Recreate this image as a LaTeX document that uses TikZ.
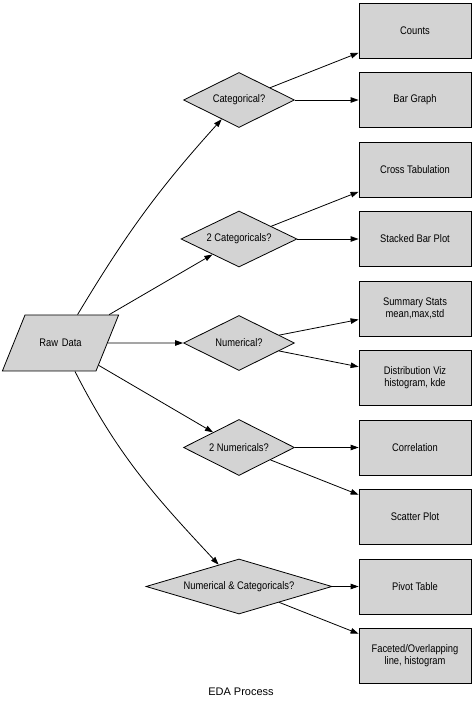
\documentclass[tikz,border=0pt]{standalone}
\usepackage{fontspec}
\setmainfont{Liberation Sans}
\newfontfamily\narrowfont[FakeStretch=0.85]{Liberation Sans}
\usetikzlibrary{shapes.geometric,arrows.meta}
\definecolor{boxgray}{RGB}{211,211,211}

\tikzset{
  every picture/.append style={x=1pt,y=1pt},
  box/.style={draw, fill=boxgray, line width=0.8pt, minimum width=112pt,
    minimum height=55pt, align=center, font=\narrowfont\fontsize{11}{12}\selectfont},
  decision/.style={draw, fill=boxgray, line width=0.8pt, shape=diamond, aspect=3,
    inner sep=0pt, minimum width=111pt, minimum height=55pt,
    font=\narrowfont\fontsize{11}{12}\selectfont},
  datanode/.style={draw, fill=boxgray, line width=0.8pt, shape=trapezium,
    trapezium left angle=68, trapezium right angle=112,
    text width=50pt, align=center, text height=8pt, text depth=0pt,
    inner xsep=10.5pt, inner ysep=24pt, font=\narrowfont\fontsize{11}{12}\selectfont},
  arr/.style={line width=0.8pt, -{Triangle[length=8pt,width=5.5pt]}}
}

\begin{document}
\begin{tikzpicture}
  \useasboundingbox (0,0) rectangle (474,705);
  % input
  \node[datanode] (raw) at(60.5,362){Raw Data};
  % questions
  \node[decision] (cat) at(239,605){Categorical?};
  \node[decision, minimum width=116pt, minimum height=56pt] (twocat) at(239,466){2 Categoricals?};
  \node[decision] (num) at(239,362){Numerical?};
  \node[decision, minimum height=56pt] (twonum) at(239,257.5){2 Numericals?};
  \node[decision, minimum width=186pt] (numcat) at(239,118.5){Numerical \& Categoricals?};
  % outputs
  \node[box] (counts) at(415,674.5){Counts};
  \node[box] (bargraph) at(415,605){Bar Graph};
  \node[box] (crosstab) at(415,535.5){Cross Tabulation};
  \node[box] (stacked) at(415,466){Stacked Bar Plot};
  \node[box] (summary) at(415,396.5){Summary Stats\\mean,max,std};
  \node[box] (distviz) at(415,327){Distribution Viz\\histogram, kde};
  \node[box] (correl) at(415,257.5){Correlation};
  \node[box] (scatter) at(415,188){Scatter Plot};
  \node[box] (pivot) at(415,118.5){Pivot Table};
  \node[box] (faceted) at(415,49){Faceted/Overlapping\\line, histogram};
  \node[font=\fontsize{11}{13}\selectfont] (title) at(241,13){EDA Process};

  \draw[arr] (raw) to[out=59,in=228] (cat);
  \draw[arr] (raw) -- (twocat);
  \draw[arr] (raw) -- (num);
  \draw[arr] (raw) -- (twonum);
  \draw[arr] (raw) to[out=-63,in=133] (numcat);

  \draw[arr] (cat) -- (counts);
  \draw[arr] (cat) -- (bargraph);
  \draw[arr] (twocat) -- (crosstab);
  \draw[arr] (twocat) -- (stacked);
  \draw[arr] (num) -- (summary);
  \draw[arr] (num) -- (distviz);
  \draw[arr] (twonum) -- (correl);
  \draw[arr] (twonum) -- (scatter);
  \draw[arr] (numcat) -- (pivot);
  \draw[arr] (numcat) -- (faceted);
\end{tikzpicture}
\end{document}
